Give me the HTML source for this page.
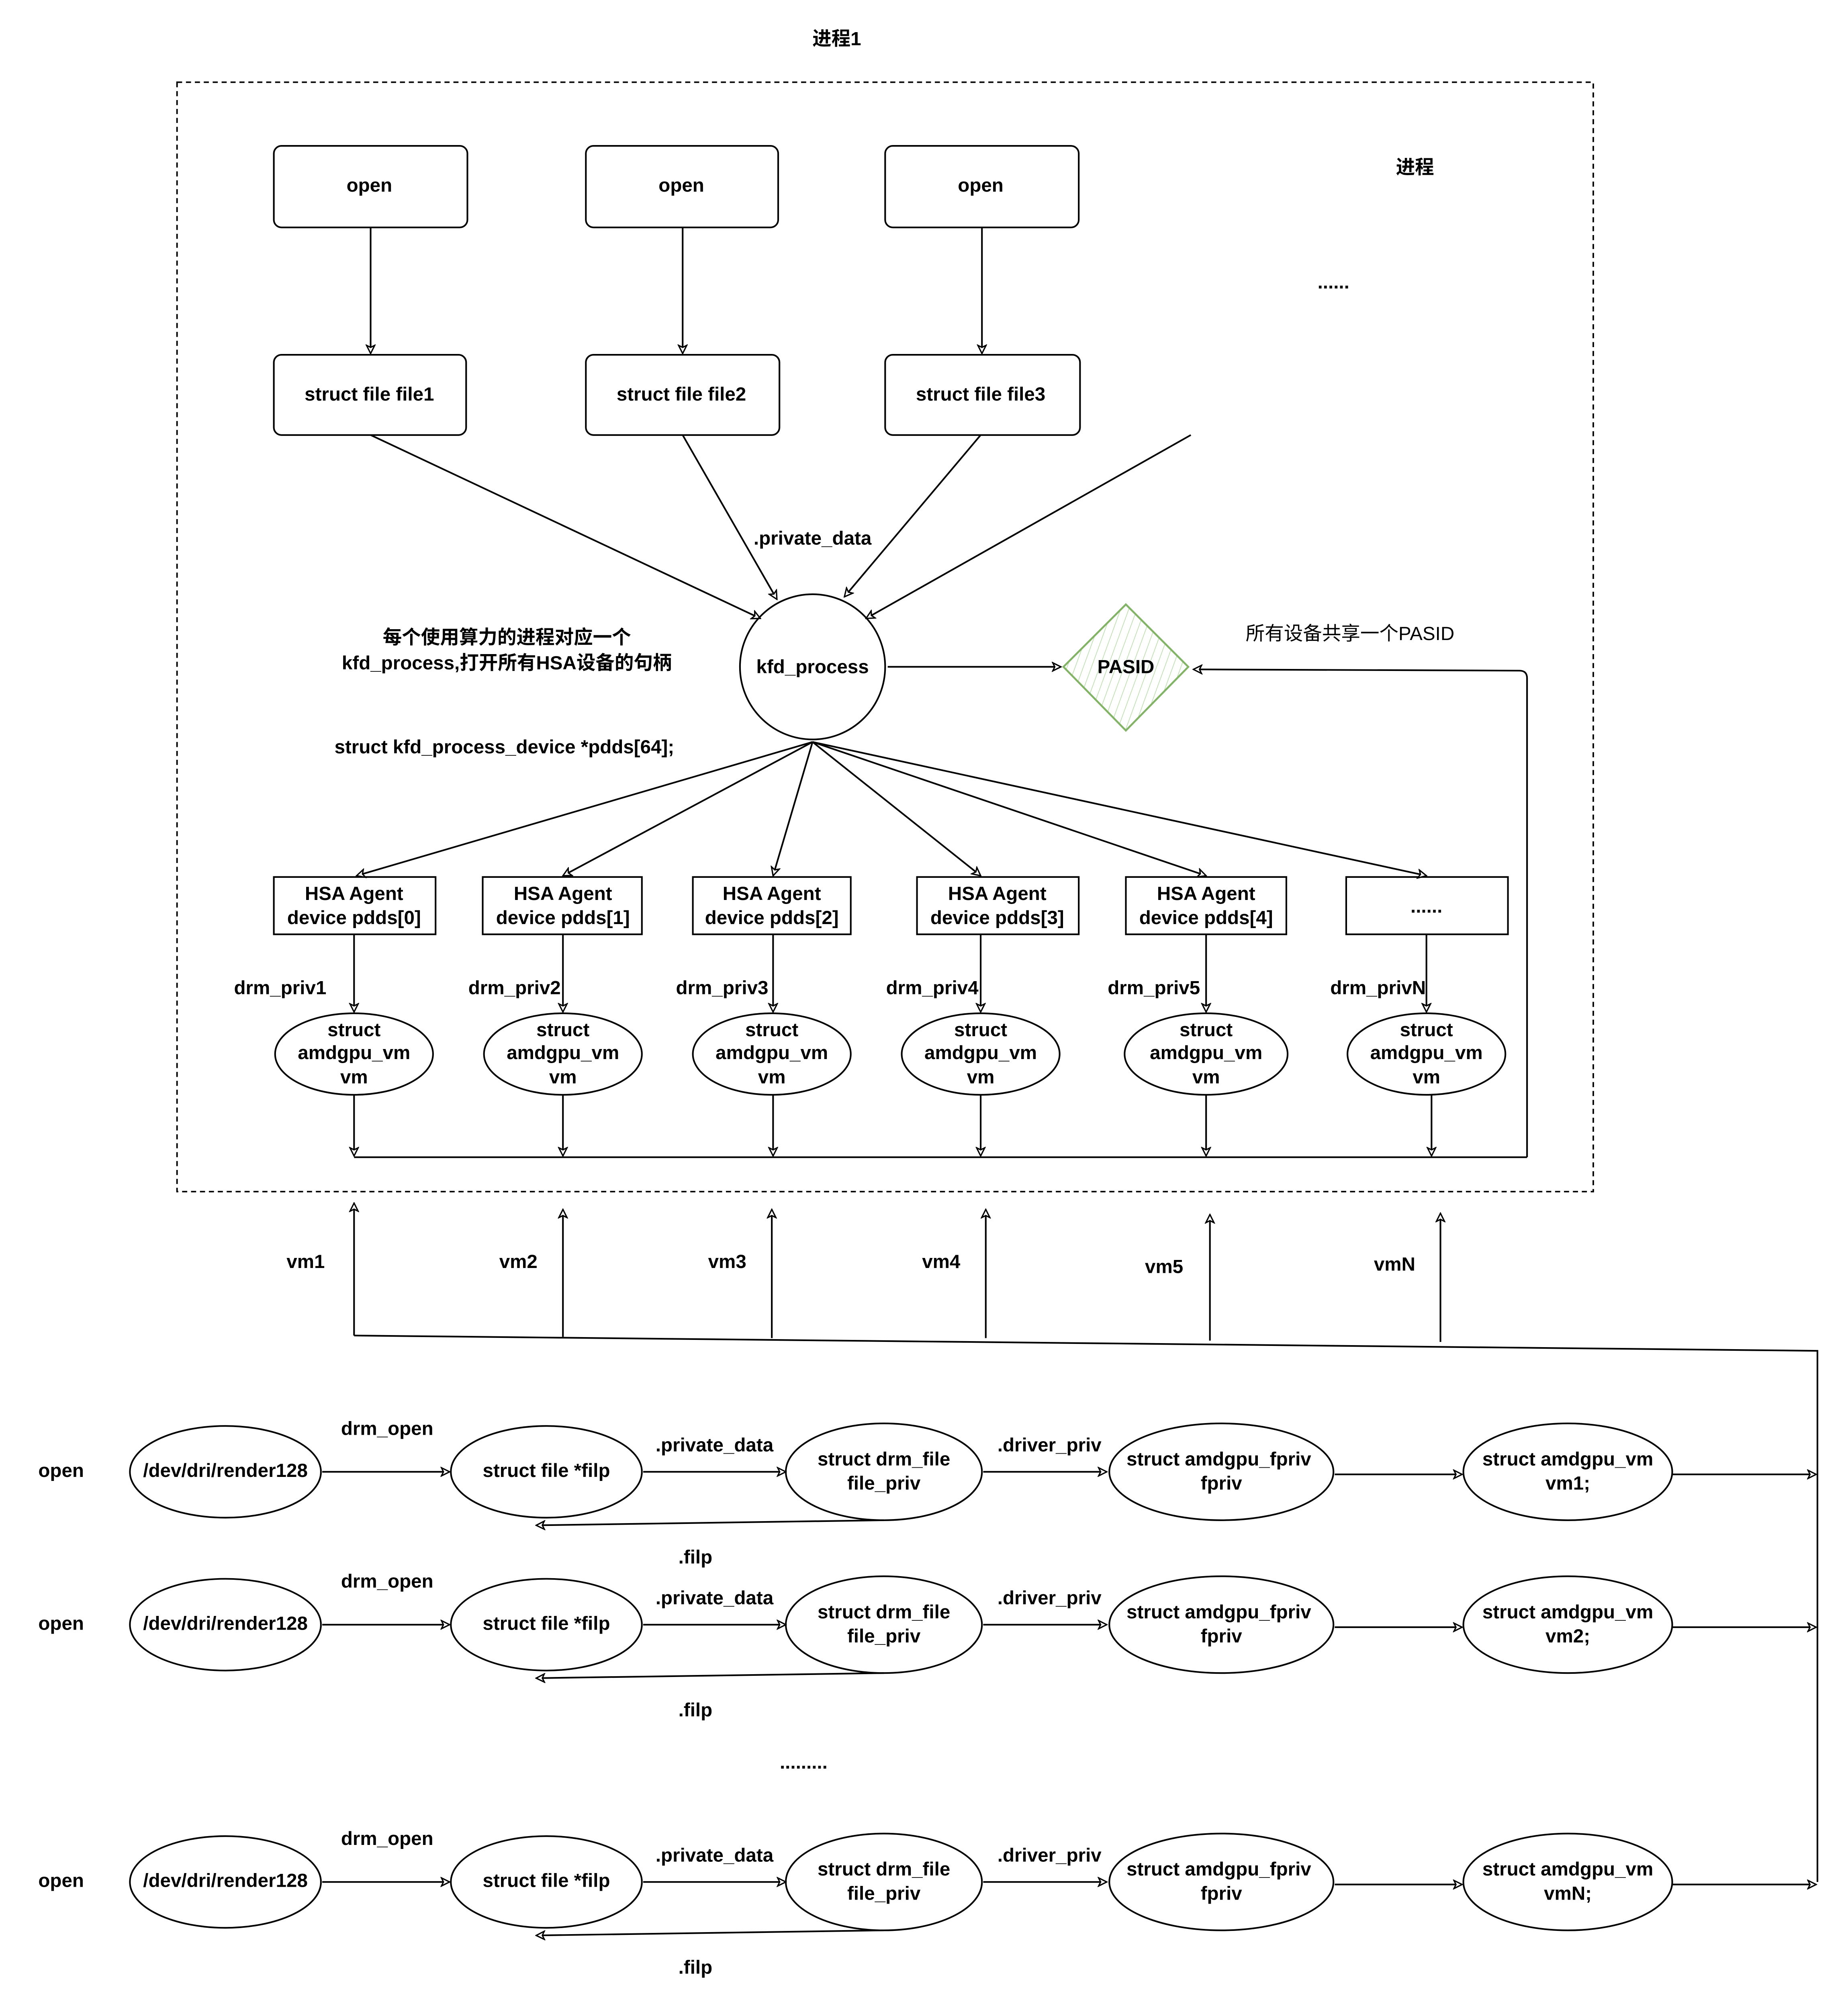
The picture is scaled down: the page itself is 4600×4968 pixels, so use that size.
<!DOCTYPE html>
<html><head><meta charset="utf-8">
<style>
html,body{margin:0;padding:0;background:#fff;}
svg{display:block;}
text{font-family:"Liberation Sans","Noto Sans CJK SC",sans-serif;font-weight:bold;font-size:15px;fill:#000;text-anchor:middle;dominant-baseline:middle;}
.n{font-weight:normal;}
.s{fill:none;stroke:#000;stroke-width:1.3;}
</style></head><body>
<svg width="4600" height="4968" viewBox="0 0 1451 1566" xmlns="http://www.w3.org/2000/svg">
<defs>
<marker id="a" viewBox="0 0 10 10" refX="9" refY="5" markerWidth="8" markerHeight="8" orient="auto" markerUnits="userSpaceOnUse">
<path d="M1,1 L9,5 L1,9 L3,5 Z" fill="#fff" stroke="#000" stroke-width="1.3"/>
</marker>
<pattern id="h" width="6" height="6" patternUnits="userSpaceOnUse" patternTransform="rotate(20)">
<line x1="0" y1="0" x2="0" y2="6" stroke="#b9dcaa" stroke-width="1"/>
</pattern>
</defs>
<text x="657" y="31">进程1</text>
<rect x="139" y="64" width="1112" height="871" fill="none" stroke="#000" stroke-width="1.2" stroke-dasharray="4,3"/>
<text x="1111" y="132">进程</text>
<text x="1047" y="222">......</text>

<g class="s">
<rect x="215" y="114" width="152" height="64" rx="6"/>
<rect x="460" y="114" width="151" height="64" rx="6"/>
<rect x="695" y="114" width="152" height="64" rx="6"/>
<rect x="215" y="278" width="151" height="63" rx="6"/>
<rect x="460" y="278" width="152" height="63" rx="6"/>
<rect x="695" y="278" width="153" height="63" rx="6"/>
</g>
<text x="290" y="146">open</text><text x="535" y="146">open</text><text x="770" y="146">open</text>
<text x="290" y="310">struct file file1</text><text x="535" y="310">struct file file2</text><text x="770" y="310">struct file file3</text>
<g class="s" marker-end="url(#a)">
<line x1="291" y1="178" x2="291" y2="277"/>
<line x1="536" y1="178" x2="536" y2="277"/>
<line x1="771" y1="178" x2="771" y2="277"/>
<line x1="291" y1="341" x2="597" y2="485"/>
<line x1="536" y1="341" x2="610" y2="470"/>
<line x1="770" y1="341" x2="663" y2="468"/>
<line x1="935" y1="341" x2="680" y2="485"/>
<line x1="697" y1="523" x2="833" y2="523"/>
</g>
<text x="638" y="423">.private_data</text>
<circle cx="638" cy="523" r="57" class="s"/>
<text x="638" y="524">kfd_process</text>
<text x="398" y="501">每个使用算力的进程对应一个</text>
<text x="398" y="521">kfd_process,打开所有HSA设备的句柄</text>
<text x="396" y="587">struct kfd_process_device *pdds[64];</text>
<polygon points="884,474 933,523 884,573 835,523" fill="url(#h)" stroke="#82b366" stroke-width="1.5"/>
<text x="884" y="524">PASID</text>
<text x="1060" y="498" class="n">所有设备共享一个PASID</text>
<path class="s" d="M1199,908 L1199,532 Q1199,526 1193,526 L937,525" marker-end="url(#a)"/>

<g class="s">
<rect x="215" y="688" width="127" height="45"/>
<rect x="379" y="688" width="125" height="45"/>
<rect x="544" y="688" width="124" height="45"/>
<rect x="720" y="688" width="127" height="45"/>
<rect x="884" y="688" width="126" height="45"/>
<rect x="1057" y="688" width="127" height="45"/>
</g>
<g class="s" marker-end="url(#a)">
<line x1="638" y1="582" x2="280" y2="687"/>
<line x1="638" y1="582" x2="442" y2="687"/>
<line x1="638" y1="582" x2="607" y2="687"/>
<line x1="638" y1="582" x2="770" y2="687"/>
<line x1="638" y1="582" x2="947" y2="687"/>
<line x1="638" y1="582" x2="1120" y2="687"/>
</g>
<g>
<text x="278" y="702">HSA Agent</text><text x="278" y="721">device pdds[0]</text>
<text x="442" y="702">HSA Agent</text><text x="442" y="721">device pdds[1]</text>
<text x="606" y="702">HSA Agent</text><text x="606" y="721">device pdds[2]</text>
<text x="783" y="702">HSA Agent</text><text x="783" y="721">device pdds[3]</text>
<text x="947" y="702">HSA Agent</text><text x="947" y="721">device pdds[4]</text>
<text x="1120" y="712">......</text>
</g>
<text x="220" y="776">drm_priv1</text><text x="404" y="776">drm_priv2</text><text x="567" y="776">drm_priv3</text>
<text x="732" y="776">drm_priv4</text><text x="906" y="776">drm_priv5</text><text x="1082" y="776">drm_privN</text>

<g class="s" marker-end="url(#a)">
<line x1="278" y1="733" x2="278" y2="794"/>
<line x1="442" y1="733" x2="442" y2="794"/>
<line x1="607" y1="733" x2="607" y2="794"/>
<line x1="770" y1="733" x2="770" y2="794"/>
<line x1="947" y1="733" x2="947" y2="794"/>
<line x1="1120" y1="733" x2="1120" y2="794"/>
<line x1="278" y1="859" x2="278" y2="907"/>
<line x1="442" y1="859" x2="442" y2="907"/>
<line x1="607" y1="859" x2="607" y2="907"/>
<line x1="770" y1="859" x2="770" y2="907"/>
<line x1="947" y1="859" x2="947" y2="907"/>
<line x1="1124" y1="859" x2="1124" y2="907"/>
</g>
<g class="s">
<ellipse cx="278" cy="827" rx="62" ry="32"/>
<ellipse cx="442" cy="827" rx="62" ry="32"/>
<ellipse cx="606" cy="827" rx="62" ry="32"/>
<ellipse cx="770" cy="827" rx="62" ry="32"/>
<ellipse cx="947" cy="827" rx="64" ry="32"/>
<ellipse cx="1120" cy="827" rx="62" ry="32"/>
<line x1="278" y1="908" x2="1199" y2="908"/>
</g>
<g>
<text x="278" y="809">struct</text><text x="278" y="827">amdgpu_vm</text><text x="278" y="846">vm</text>
<text x="442" y="809">struct</text><text x="442" y="827">amdgpu_vm</text><text x="442" y="846">vm</text>
<text x="606" y="809">struct</text><text x="606" y="827">amdgpu_vm</text><text x="606" y="846">vm</text>
<text x="770" y="809">struct</text><text x="770" y="827">amdgpu_vm</text><text x="770" y="846">vm</text>
<text x="947" y="809">struct</text><text x="947" y="827">amdgpu_vm</text><text x="947" y="846">vm</text>
<text x="1120" y="809">struct</text><text x="1120" y="827">amdgpu_vm</text><text x="1120" y="846">vm</text>
</g>

<g class="s" marker-end="url(#a)">
<line x1="278" y1="1048" x2="278" y2="944"/>
<line x1="442" y1="1049" x2="442" y2="949"/>
<line x1="606" y1="1050" x2="606" y2="949"/>
<line x1="774" y1="1050" x2="774" y2="949"/>
<line x1="950" y1="1052" x2="950" y2="953"/>
<line x1="1131" y1="1053" x2="1131" y2="952"/>
</g>
<text x="240" y="991">vm1</text><text x="407" y="991">vm2</text><text x="571" y="991">vm3</text>
<text x="739" y="991">vm4</text><text x="914" y="995">vm5</text><text x="1095" y="993">vmN</text>
<path class="s" d="M278,1048 L1427,1060 L1427,1477"/>

<g>
<text x="48" y="1155">open</text>
<ellipse class="s" cx="177" cy="1155" rx="75" ry="36"/>
<text x="177" y="1155">/dev/dri/render128</text>
<text x="304" y="1122">drm_open</text>
<ellipse class="s" cx="429" cy="1155" rx="75" ry="36"/>
<text x="429" y="1155">struct file *filp</text>
<text x="561" y="1135">.private_data</text>
<ellipse class="s" cx="694" cy="1155" rx="77" ry="38"/>
<text x="694" y="1146">struct drm_file</text><text x="694" y="1165">file_priv</text>
<text x="546" y="1223">.filp</text>
<text x="824" y="1135">.driver_priv</text>
<ellipse class="s" cx="959" cy="1155" rx="88" ry="38"/>
<text x="957" y="1146">struct amdgpu_fpriv</text><text x="959" y="1165">fpriv</text>
<ellipse class="s" cx="1231" cy="1155" rx="82" ry="38"/>
<text x="1231" y="1146">struct amdgpu_vm</text><text x="1231" y="1165">vm1;</text>
<g class="s" marker-end="url(#a)">
<line x1="253" y1="1155" x2="353" y2="1155"/>
<line x1="505" y1="1155" x2="617" y2="1155"/>
<path d="M694,1193 L421,1197"/>
<line x1="772" y1="1155" x2="869" y2="1155"/>
<line x1="1048" y1="1157" x2="1148" y2="1157"/>
<line x1="1313" y1="1157" x2="1426" y2="1157"/>
</g>
</g>
<g transform="translate(0,120)">
<text x="48" y="1155">open</text>
<ellipse class="s" cx="177" cy="1155" rx="75" ry="36"/>
<text x="177" y="1155">/dev/dri/render128</text>
<text x="304" y="1122">drm_open</text>
<ellipse class="s" cx="429" cy="1155" rx="75" ry="36"/>
<text x="429" y="1155">struct file *filp</text>
<text x="561" y="1135">.private_data</text>
<ellipse class="s" cx="694" cy="1155" rx="77" ry="38"/>
<text x="694" y="1146">struct drm_file</text><text x="694" y="1165">file_priv</text>
<text x="546" y="1223">.filp</text>
<text x="824" y="1135">.driver_priv</text>
<ellipse class="s" cx="959" cy="1155" rx="88" ry="38"/>
<text x="957" y="1146">struct amdgpu_fpriv</text><text x="959" y="1165">fpriv</text>
<ellipse class="s" cx="1231" cy="1155" rx="82" ry="38"/>
<text x="1231" y="1146">struct amdgpu_vm</text><text x="1231" y="1165">vm2;</text>
<g class="s" marker-end="url(#a)">
<line x1="253" y1="1155" x2="353" y2="1155"/>
<line x1="505" y1="1155" x2="617" y2="1155"/>
<path d="M694,1193 L421,1197"/>
<line x1="772" y1="1155" x2="869" y2="1155"/>
<line x1="1048" y1="1157" x2="1148" y2="1157"/>
<line x1="1313" y1="1157" x2="1426" y2="1157"/>
</g>
</g>
<g transform="translate(0,322)">
<text x="48" y="1155">open</text>
<ellipse class="s" cx="177" cy="1155" rx="75" ry="36"/>
<text x="177" y="1155">/dev/dri/render128</text>
<text x="304" y="1122">drm_open</text>
<ellipse class="s" cx="429" cy="1155" rx="75" ry="36"/>
<text x="429" y="1155">struct file *filp</text>
<text x="561" y="1135">.private_data</text>
<ellipse class="s" cx="694" cy="1155" rx="77" ry="38"/>
<text x="694" y="1146">struct drm_file</text><text x="694" y="1165">file_priv</text>
<text x="546" y="1223">.filp</text>
<text x="824" y="1135">.driver_priv</text>
<ellipse class="s" cx="959" cy="1155" rx="88" ry="38"/>
<text x="957" y="1146">struct amdgpu_fpriv</text><text x="959" y="1165">fpriv</text>
<ellipse class="s" cx="1231" cy="1155" rx="82" ry="38"/>
<text x="1231" y="1146">struct amdgpu_vm</text><text x="1231" y="1165">vmN;</text>
<g class="s" marker-end="url(#a)">
<line x1="253" y1="1155" x2="353" y2="1155"/>
<line x1="505" y1="1155" x2="617" y2="1155"/>
<path d="M694,1193 L421,1197"/>
<line x1="772" y1="1155" x2="869" y2="1155"/>
<line x1="1048" y1="1157" x2="1148" y2="1157"/>
<line x1="1313" y1="1157" x2="1426" y2="1157"/>
</g>
</g>
<text x="631" y="1384">.........</text>
</svg>
</body></html>
